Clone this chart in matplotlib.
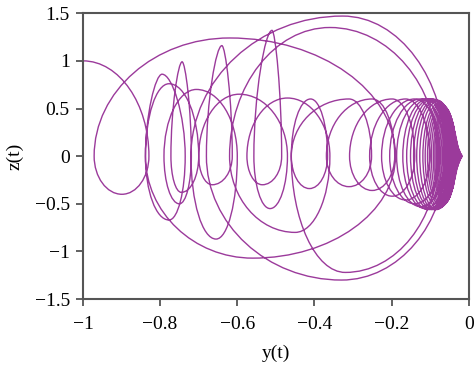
import numpy as np
import matplotlib.pyplot as plt
from matplotlib.path import Path
from matplotlib.patches import PathPatch

plt.rcParams['font.family'] = ['Liberation Serif', 'DejaVu Serif']

# turning points of the trajectory.
# every loop: top, right, bottom, left (clockwise)
loop_top_y = [-1.00, -0.62, -0.795, -0.777, -0.743, -0.706, -0.327, -0.64, -0.595, -0.51, -0.47, -0.36, -0.41]
loop_top_z = [1.00, 1.24, 0.86, 0.76, 0.99, 0.70, 1.47, 1.16, 0.65, 1.32, 0.61, 1.35, 0.60]
loop_right_y = [-0.829, -0.19, -0.735, -0.70, -0.719, -0.60, -0.06, -0.613, -0.47, -0.485, -0.36, -0.08, -0.366]
loop_bot_y = [-0.899, -0.56, -0.777, -0.745, -0.75, -0.655, -0.33, -0.665, -0.515, -0.535, -0.45, -0.32, -0.413]
loop_bot_z = [-0.40, -1.07, -0.67, -0.38, -0.50, -0.87, -1.30, -0.30, -0.55, -0.30, -0.80, -1.22, -0.34]
loop_left_y = [-0.971, -0.838, -0.838, -0.772, -0.79, -0.72, -0.68, -0.70, -0.557, -0.575, -0.62, -0.46, -0.46]

# dense spiral at the right end: left / right edge, top and bottom of each loop
spiral_left = [-0.369, -0.309, -0.257, -0.226, -0.205, -0.187, -0.171, -0.161, -0.151, -0.143,
               -0.135, -0.127, -0.119, -0.113, -0.107, -0.102, -0.097, -0.092, -0.088, -0.084,
               -0.080, -0.076, -0.072, -0.068, -0.065, -0.062, -0.059, -0.056, -0.053, -0.050,
               -0.047, -0.044, -0.041]
spiral_right = [-0.252, -0.192, -0.140, -0.101, -0.075, -0.062, -0.055, -0.050, -0.046, -0.043,
                -0.041, -0.040, -0.039, -0.038, -0.037, -0.037, -0.036, -0.036, -0.036, -0.036,
                -0.036, -0.036, -0.035, -0.035, -0.035, -0.034, -0.034, -0.034, -0.033, -0.033,
                -0.031, -0.029, -0.027]
spiral_top = [0.60, 0.60, 0.60, 0.60, 0.60, 0.60, 0.60, 0.60, 0.60, 0.60,
              0.59, 0.59, 0.58, 0.56, 0.55, 0.54, 0.53, 0.52, 0.51, 0.50,
              0.49, 0.47, 0.45, 0.43, 0.42, 0.40, 0.38, 0.36, 0.33, 0.31,
              0.27, 0.22, 0.17]
spiral_bot = [-0.32, -0.36, -0.42, -0.46, -0.50, -0.53, -0.55, -0.56, -0.56, -0.56,
              -0.56, -0.56, -0.55, -0.54, -0.53, -0.52, -0.51, -0.50, -0.49, -0.48,
              -0.47, -0.45, -0.43, -0.41, -0.40, -0.38, -0.36, -0.34, -0.31, -0.29,
              -0.25, -0.20, -0.15]
# last turns shrinking into the tip
tip_y = [-0.025, -0.022, -0.020, -0.018, -0.016]
tip_z = [0.12, 0.08, 0.05, 0.03, 0.0]

# collect turning points in order
py, pz = [], []
for i in range(len(loop_top_y)):
    py += [loop_top_y[i], loop_right_y[i], loop_bot_y[i], loop_left_y[i]]
    pz += [loop_top_z[i], 0.0, loop_bot_z[i], 0.0]
for i in range(len(spiral_left)):
    mid = (spiral_left[i] + spiral_right[i]) / 2
    py += [mid, spiral_right[i], mid, spiral_left[i]]
    pz += [spiral_top[i], 0.0, spiral_bot[i], 0.0]
for i in range(len(tip_y) - 1):
    py += [tip_y[i] - 0.006, tip_y[i], tip_y[i] - 0.006, tip_y[i] - 0.012]
    pz += [tip_z[i], 0.0, -tip_z[i], 0.0]
py.append(tip_y[-1])
pz.append(tip_z[-1])

# cubic bezier between turning points (top/bottom: horizontal tangent, left/right: vertical)
# tall narrow tops get a shorter horizontal handle so they come out a bit pointed
verts = [(py[0], pz[0])]
codes = [Path.MOVETO]
for i in range(len(py) - 1):
    ay, az, by, bz = py[i], pz[i], py[i + 1], pz[i + 1]
    ratio = abs(by - ay) * 385 / max(abs(bz - az) * 96, 1e-6)
    kh, kv = 0.55, 0.55
    if i % 4 in (0, 3) and ratio < 0.5 and abs(bz - az) > 0.8:
        kh = 0.3 + 0.5 * ratio
        kv = 0.5
    if i % 2 == 0:
        c1 = (ay + kh * (by - ay), az)
        c2 = (by, bz + kv * (az - bz))
    else:
        c1 = (ay, az + kv * (bz - az))
        c2 = (by + kh * (ay - by), bz)
    verts += [c1, c2, (by, bz)]
    codes += [Path.CURVE4] * 3

fig = plt.figure(figsize=(4.74, 3.67), dpi=100)
ax = fig.add_axes([0.175, 0.185, 0.814, 0.779])
ax.add_patch(PathPatch(Path(verts, codes), facecolor='none', edgecolor='#9b3a9b', lw=1.0))

ax.set_xlim(-1, 0)
ax.set_ylim(-1.5, 1.5)
xt = [-1, -0.8, -0.6, -0.4, -0.2, 0]
yt = [-1.5, -1, -0.5, 0, 0.5, 1, 1.5]
ax.set_xticks(xt)
ax.set_xticklabels(['−1', '−0.8', '−0.6', '−0.4', '−0.2', '0'])
ax.set_yticks(yt)
ax.set_yticklabels(['−1.5', '−1', '−0.5', '0', '0.5', '1', '1.5'])
ax.tick_params(direction='out', length=5, width=1.3, color='#555555', labelsize=14)
ax.tick_params(axis='x', pad=7.5)
ax.tick_params(axis='y', pad=4.5)
for s in ax.spines.values():
    s.set_color('#555555')
    s.set_linewidth(1.5)
ax.set_xlabel('y(t)', fontsize=14, labelpad=8)
ax.set_ylabel('z(t)', fontsize=14, labelpad=8)

fig.savefig('out.png', dpi=100)
